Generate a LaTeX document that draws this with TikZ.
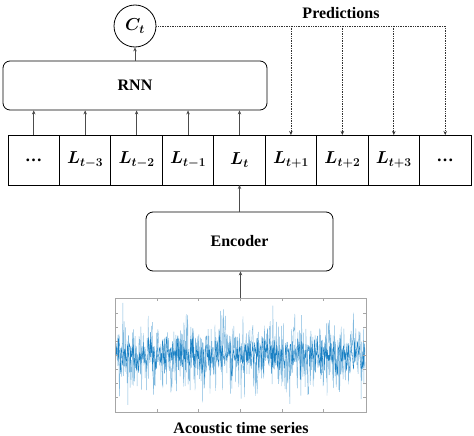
\documentclass[tikz,border=0pt]{standalone}
\usepackage{fontspec}
\setmainfont{Liberation Serif}
\usepackage{amsmath, bm}
\usetikzlibrary{arrows.meta, positioning, calc}
\definecolor{sigblue}{RGB}{0,114,189}

\begin{document}
\begin{tikzpicture}[
  x=1pt, y=-1pt,
  >={Stealth[length=4pt, width=3.5pt]},
  cell/.style={draw, rectangle, minimum width=51.44pt, minimum height=50pt, outer sep=0pt, line width=0.8pt, font=\fontsize{17}{20}\selectfont},
  block/.style={draw, rectangle, rounded corners=7pt, line width=0.8pt, font=\fontsize{16}{19}\selectfont\bfseries},
  state/.style={draw, circle, minimum size=42pt, inner sep=0pt, line width=0.8pt, font=\fontsize{17}{20}\selectfont},
  flow/.style={->, line width=0.8pt, black!70},
  predflow/.style={->, densely dotted, line width=0.7pt, black!80},
  title/.style={font=\fontsize{16}{19}\selectfont\bfseries},
  frame/.style={draw=black!35, rectangle, minimum width=251pt, minimum height=114pt, outer sep=0pt, line width=0.5pt},
  tick/.style={black!35, line width=0.5pt},
  signal/.style={line width=0.4pt, sigblue!50},
  core/.style={line width=0.35pt, sigblue!90}
]
\useasboundingbox (0,0) rectangle (474,436);

% latent sequence
\node[cell] (Ldots1) at (33.72,160) {\textbf{…}};
\node[cell] (Lm3) [right=0pt of Ldots1] {$\bm{L_{t-3}}$};
\node[cell] (Lm2) [right=0pt of Lm3] {$\bm{L_{t-2}}$};
\node[cell] (Lm1) [right=0pt of Lm2] {$\bm{L_{t-1}}$};
\node[cell] (Lt) [right=0pt of Lm1] {$\bm{L_{t}}$};
\node[cell] (Lp1) [right=0pt of Lt] {$\bm{L_{t+1}}$};
\node[cell] (Lp2) [right=0pt of Lp1] {$\bm{L_{t+2}}$};
\node[cell] (Lp3) [right=0pt of Lp2] {$\bm{L_{t+3}}$};
\node[cell] (Ldots2) [right=0pt of Lp3] {\textbf{…}};

\node[block, minimum width=264pt, minimum height=49pt] (RNN) at (135,85.5) {RNN};
\node[state] (Ct) at (135,26) {$\bm{C_t}$};
\node[title] (Pred) at (341,13) {Predictions};

\node[block, minimum width=187pt, minimum height=59pt] (Enc) at (239.5,241.5) {Encoder};
\node[frame] (Sig) at (240.5,355) {};
\node[title] (SigLbl) at (241,428) {Acoustic time series};

% signal
\begin{scope}
\clip (Sig.south west) rectangle (Sig.north east);
\pgfmathsetseed{17}
\draw[signal] plot[domain=116:365, samples=650] (\x, {355+19*(rand+rand+rand)*(1+0.1*sin(\x*4))});
\draw[core] plot[domain=116:365, samples=500] (\x, {355+10*(rand+rand+rand)});
\end{scope}

\foreach \tx in {157,198,240,282,323} {
  \draw[tick] (\tx,298) -- ++(0,3);
  \draw[tick] (\tx,412) -- ++(0,-3);
}
\foreach \ty in {313,327,...,397} {
  \draw[tick] (115,\ty) -- ++(3,0);
  \draw[tick] (366,\ty) -- ++(-3,0);
}

\draw[flow] (Ldots1.north) -- (Ldots1.north |- RNN.south);
\draw[flow] (Lm3.north) -- (Lm3.north |- RNN.south);
\draw[flow] (Lm2.north) -- (Lm2.north |- RNN.south);
\draw[flow] (Lm1.north) -- (Lm1.north |- RNN.south);
\draw[flow] (Lt.north) -- (Lt.north |- RNN.south);
\draw[flow] (RNN.north) -- (Ct.south);

% predictions
\draw[predflow] (Ct.east) -| (Ldots2.north);
\draw[predflow] (Ct.east -| Lp1.north) -- (Lp1.north);
\draw[predflow] (Ct.east -| Lp2.north) -- (Lp2.north);
\draw[predflow] (Ct.east -| Lp3.north) -- (Lp3.north);

\draw[flow] (Enc.north) -- (Enc.north |- Lt.south);
\draw[flow] (Sig.north) -- (Sig.north |- Enc.south);
\end{tikzpicture}
\end{document}
